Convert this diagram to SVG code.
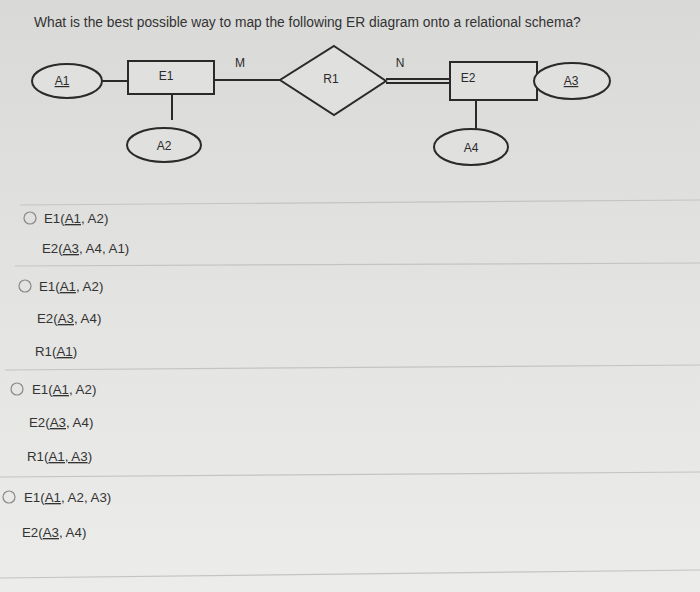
<svg xmlns="http://www.w3.org/2000/svg" width="700" height="592" viewBox="0 0 700 592">
<defs>
<linearGradient id="bg" x1="0" y1="0" x2="0" y2="1">
<stop offset="0" stop-color="#d9d9d7"/><stop offset="0.5" stop-color="#e3e3e1"/><stop offset="1" stop-color="#ecedeb"/>
</linearGradient>
</defs>
<style>
.s{fill:none;stroke:#2a2a2a;stroke-width:2}
.n{fill:#e0e0de;stroke:#2a2a2a;stroke-width:2}
.t{font-family:"Liberation Sans",Arial,sans-serif;font-size:12px;fill:#2a2a2a;text-anchor:middle}
.o{font-family:"Liberation Sans",Arial,sans-serif;font-size:13.3px;fill:#333}
.q{font-family:"Liberation Sans",Arial,sans-serif;font-size:13.8px;fill:#333}
.sep{stroke:#c4c4c2;stroke-width:1.2}
.r{fill:none;stroke:#888;stroke-width:1.2}
</style>
<rect width="700" height="592" fill="url(#bg)"/>
<text class="q" x="34" y="27">What is the best possible way to map the following ER diagram onto a relational schema?</text>
<g id="connectors">
<line class="s" x1="102" y1="81" x2="128" y2="81"/>
<line class="s" x1="172" y1="94" x2="172" y2="120"/>
<line class="s" x1="214" y1="80" x2="280" y2="80"/>
<line class="s" x1="386" y1="79" x2="450" y2="79" stroke-width="1.5"/>
<line class="s" x1="386" y1="83" x2="450" y2="83" stroke-width="1.5"/>
<line class="s" x1="537" y1="80" x2="554" y2="80"/>
<line class="s" x1="476" y1="100" x2="476" y2="129"/>
</g>
<text class="t" x="240" y="67">M</text>
<text class="t" x="400" y="67">N</text>
<g id="A1"><ellipse class="n" cx="67" cy="81" rx="35" ry="17"/><text class="t" x="62" y="85" text-decoration="underline">A1</text></g>
<g id="E1"><rect class="n" x="128" y="61" width="86" height="33"/><text class="t" x="166" y="80">E1</text></g>
<g id="A2"><ellipse class="n" cx="164" cy="145" rx="37" ry="17"/><text class="t" x="164" y="150">A2</text></g>
<g id="R1"><polygon class="n" points="334,46 386,81 334,115 280,80"/><text class="t" x="331" y="83">R1</text></g>
<g id="E2"><rect class="n" x="450" y="62" width="87" height="38"/><text class="t" x="468" y="82">E2</text></g>
<g id="A3"><ellipse class="n" cx="572" cy="81" rx="38" ry="18"/><text class="t" x="571" y="85" text-decoration="underline">A3</text></g>
<g id="A4"><ellipse class="n" cx="471" cy="147" rx="37" ry="18"/><text class="t" x="471" y="152">A4</text></g>
<line class="sep" x1="20" y1="205" x2="700" y2="200"/>
<line class="sep" x1="15" y1="266" x2="700" y2="263"/>
<line class="sep" x1="5" y1="370" x2="700" y2="365"/>
<line class="sep" x1="0" y1="477" x2="700" y2="472"/>
<line class="sep" x1="0" y1="578" x2="700" y2="570"/>
<g id="opt1"><circle class="r" cx="30" cy="218" r="6"/>
<text class="o" x="44" y="223">E1(<tspan text-decoration="underline">A1</tspan>, A2)</text>
<text class="o" x="42" y="253">E2(<tspan text-decoration="underline">A3</tspan>, A4, A1)</text></g>
<g id="opt2"><circle class="r" cx="25" cy="286" r="6"/>
<text class="o" x="39" y="291">E1(<tspan text-decoration="underline">A1</tspan>, A2)</text>
<text class="o" x="37" y="323">E2(<tspan text-decoration="underline">A3</tspan>, A4)</text>
<text class="o" x="35" y="356">R1(<tspan text-decoration="underline">A1</tspan>)</text></g>
<g id="opt3"><circle class="r" cx="17" cy="389" r="6"/>
<text class="o" x="32" y="394">E1(<tspan text-decoration="underline">A1</tspan>, A2)</text>
<text class="o" x="29" y="427">E2(<tspan text-decoration="underline">A3</tspan>, A4)</text>
<text class="o" x="27" y="461">R1(<tspan text-decoration="underline">A1, A3</tspan>)</text></g>
<g id="opt4"><circle class="r" cx="9" cy="497" r="6"/>
<text class="o" x="24" y="502">E1(<tspan text-decoration="underline">A1</tspan>, A2, A3)</text>
<text class="o" x="22" y="537">E2(<tspan text-decoration="underline">A3</tspan>, A4)</text></g>
</svg>
